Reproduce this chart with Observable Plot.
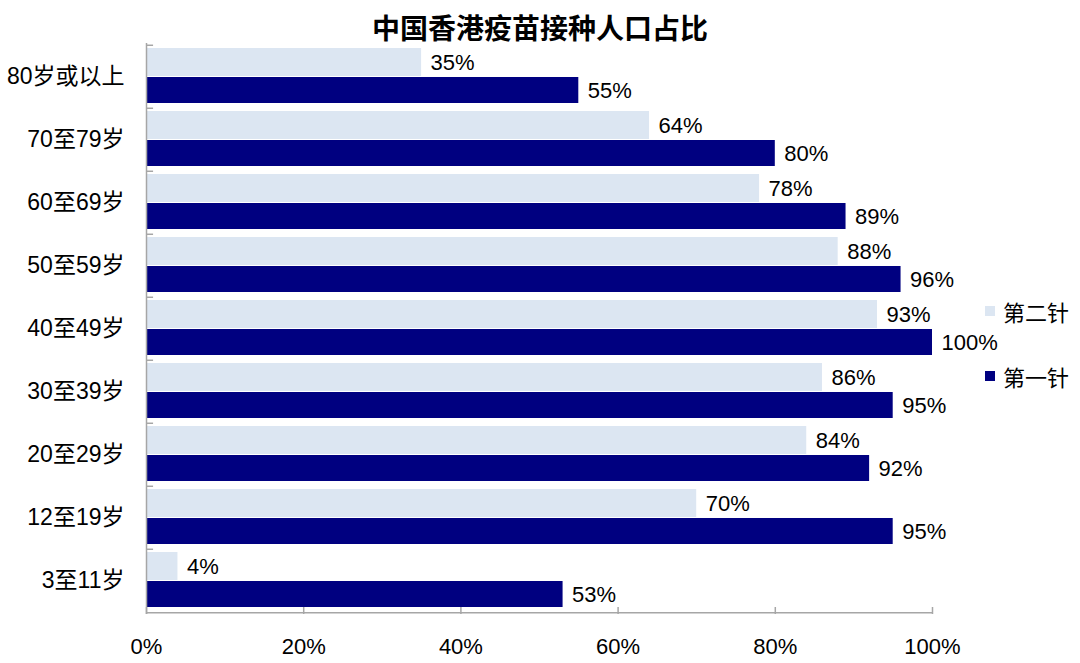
<!DOCTYPE html>
<html><head><meta charset="utf-8">
<script src="https://cdn.jsdelivr.net/npm/d3@7"></script>
<script src="https://cdn.jsdelivr.net/npm/@observablehq/plot@0.6"></script>
<style>
body{margin:0;background:#fff;}
#wrap{position:relative;width:1080px;height:663px;font-family:"Liberation Sans","Noto Sans CJK SC",sans-serif;}
#title{position:absolute;left:0;top:8px;width:1080px;text-align:center;font-size:28px;font-weight:bold;font-family:"Noto Sans CJK SC",sans-serif;line-height:38px;color:#000;}
.leg{position:absolute;left:985px;height:30px;font-size:22px;display:flex;align-items:center;color:#000;font-family:"Noto Sans CJK SC",sans-serif;}
.sw{width:10px;height:10px;margin-right:8px;}
#chart{position:absolute;left:0;top:0;}
</style></head><body>
<div id="wrap"><div id="chart"></div><div id="title">中国香港疫苗接种人口占比</div><div id="legend"></div></div>
<script>
const categories = ["80岁或以上","70至79岁","60至69岁","50至59岁","40至49岁","30至39岁","20至29岁","12至19岁","3至11岁"];
const secondDose = [35,64,78,88,93,86,84,70,4];
const firstDose = [55,80,89,96,100,95,92,95,53];
const seriesNames = ["第二针","第一针"];
const seriesColors = ["#dce6f2","#000080"];
const xTicks = [0,20,40,60,80,100];

const second = categories.map((c,i)=>({cat:c, series:seriesNames[0], value:secondDose[i]}));
const first = categories.map((c,i)=>({cat:c, series:seriesNames[1], value:firstDose[i]}));

const H = 663, MT = 43, MB = 49;
const step = (H - MT - MB) / categories.length;

const plot = Plot.plot({
  width:1080, height:H, marginTop:MT, marginBottom:MB, marginLeft:146, marginRight:148,
  style:{fontFamily:"Liberation Sans, Noto Sans CJK SC, sans-serif", fontSize:"22px", color:"#000", background:"transparent", overflow:"visible"},
  x:{domain:[0,100]},
  y:{domain:categories, paddingInner:0.133, paddingOuter:0.0665},
  marks:[
    Plot.barX(second, {x:"value", y:"cat", fill:seriesColors[0], insetBottom:28, insetTop:-1}),
    Plot.barX(first, {x:"value", y:"cat", fill:seriesColors[1], insetTop:28, insetBottom:1}),
    Plot.text(second, {x:"value", y:"cat", text:d=>d.value+"%", textAnchor:"start", dx:9, dy:-14, fill:"#000", fontSize:22}),
    Plot.text(first, {x:"value", y:"cat", text:d=>d.value+"%", textAnchor:"start", dx:9, dy:14, fill:"#000", fontSize:22}),
    Plot.ruleX([0], {stroke:"#a6a6a6", strokeWidth:1.5}),
    Plot.ruleY(categories, {y:d=>d, x1:0, x2:0.9, dy:-step/2, stroke:"#a6a6a6", strokeWidth:1.5}),
    Plot.ruleY([categories[categories.length-1]], {y:d=>d, x1:0, x2:100, dy:step/2, stroke:"#a6a6a6", strokeWidth:1.5}),
    Plot.tickX(xTicks, {x:d=>d, insetTop:H-MT-MB-7, stroke:"#a6a6a6", strokeWidth:1.5}),
    Plot.axisX({ticks:xTicks, tickFormat:d=>d+"%", tickSize:0, tickPadding:24, fontSize:22, fill:"#000", label:null}),
    Plot.axisY({tickSize:0, tickPadding:22, fontSize:23, fill:"#000", label:null})
  ]
});
document.getElementById("chart").appendChild(plot);

const legend = document.getElementById("legend");
const legendY = [311, 376];
seriesNames.forEach((s,i)=>{
  const d = document.createElement("div");
  d.className = "leg";
  d.style.top = (legendY[i]-15)+"px";
  d.innerHTML = `<span class="sw" style="background:${seriesColors[i]}"></span><span>${s}</span>`;
  legend.appendChild(d);
});
</script>
</body></html>
